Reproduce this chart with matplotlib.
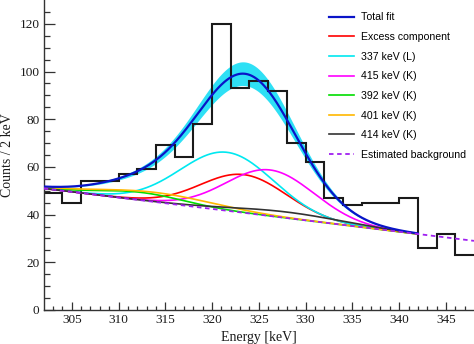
import numpy as np
import matplotlib
matplotlib.use("Agg")
import matplotlib.pyplot as plt

# Histogram: 2 keV bins
bin_edges = np.arange(302, 349, 2)
counts = [49, 45, 54, 54, 57, 59, 69, 64, 78, 120, 93, 96,
          92, 70, 62, 47, 44, 45, 45, 47, 26, 32, 23]

# Linear background (value at 302 keV and at 348 keV)
bg_energy = [302.0, 348.0]
bg_counts = [51.0, 29.0]

# Fit range
fit_lo, fit_hi = 302.0, 342.0

# Fit components: label, colour, centroid [keV], amplitude [counts], width [keV]
comp_labels = ["Excess component", "337 keV (L)", "415 keV (K)",
               "392 keV (K)", "401 keV (K)", "414 keV (K)"]
comp_colors = ["#ff0000", "#00e8f0", "#ff00ff", "#00dd00", "#ffb800", "#333333"]
comp_centroid = [323.4, 321.6, 326.2, 312.5, 314.0, 328.0]
comp_amplitude = [16.0, 24.5, 19.3, 3.3, 4.0, 2.5]
comp_width = [4.6, 5.0, 4.7, 4.5, 6.0, 6.0]

# Relative uncertainty of the fitted signal (band around total fit)
band_frac = 0.085


def background(e):
    slope = (bg_counts[1] - bg_counts[0]) / (bg_energy[1] - bg_energy[0])
    return bg_counts[0] + slope * (e - bg_energy[0])


def gauss(e, m, a, s):
    return a * np.exp(-0.5 * ((e - m) / s) ** 2)


plt.rcParams["font.family"] = ["Liberation Serif", "DejaVu Serif"]

fig = plt.figure(figsize=(4.74, 3.44), dpi=100)
W, H = 474.0, 344.0
ax = fig.add_axes([43.7 / W, 34.0 / H, 1 - 43.7 / W, 1 - 34.0 / H])

e = np.linspace(fit_lo, fit_hi, 600)
bg = background(e)
parts = [gauss(e, m, a, s) for m, a, s in zip(comp_centroid, comp_amplitude, comp_width)]
signal = np.sum(parts, axis=0)
total = bg + signal

ax.fill_between(e, total - band_frac * signal, total + band_frac * signal,
                color="#2ee0f5", lw=0, zorder=1)

ax.stairs(counts, bin_edges, baseline=None, color="#1a1a1a", lw=1.5, zorder=2)

handles = []
(h_total,) = ax.plot(e, total, color="#0a14c8", lw=1.6, zorder=5, label="Total fit")
handles.append(h_total)
for lab, col, p in zip(comp_labels, comp_colors, parts):
    (h,) = ax.plot(e, bg + p, color=col, lw=1.2, zorder=4, label=lab)
    handles.append(h)

eb = np.linspace(bg_energy[0], bg_energy[1], 2)
(h_bg,) = ax.plot(eb, background(eb), color="#a020f0", lw=1.3, ls=(0, (2.5, 2.0)),
                  zorder=6, label="Estimated background")
handles.append(h_bg)

ax.set_xlim(302, 348)
ax.set_ylim(0, 130)
ax.set_xticks(np.arange(305, 348, 5))
ax.set_xticks(np.arange(303, 348, 1), minor=True)
ax.set_yticks(np.arange(0, 121, 20))
ax.set_yticks(np.arange(0, 130, 5), minor=True)

for side in ("top", "right"):
    ax.spines[side].set_visible(False)
for side in ("left", "bottom"):
    ax.spines[side].set_color("#333333")
    ax.spines[side].set_linewidth(1.0)

ax.tick_params(axis="both", which="both", direction="in", colors="#333333",
               labelcolor="#1a1a1a", labelsize=9.5, width=0.9)
ax.tick_params(axis="y", which="major", length=8, pad=3)
ax.tick_params(axis="y", which="minor", length=4)
ax.tick_params(axis="x", which="major", length=6, pad=3)
ax.tick_params(axis="x", which="minor", length=3)

ax.set_xlabel("Energy [keV]", fontsize=10, color="#1a1a1a")
ax.set_ylabel("Counts / 2 keV", fontsize=10, color="#1a1a1a")
ax.xaxis.set_label_coords(0.5, -0.068)
ax.yaxis.set_label_coords(-0.069, 0.5)

leg = ax.legend(handles=handles, loc="upper left",
                bbox_to_anchor=(329.3 / W, 1 - 12.5 / H), bbox_transform=fig.transFigure,
                frameon=False, borderpad=0, borderaxespad=0,
                handlelength=2.35, handletextpad=0.65, labelspacing=0.91,
                prop={"family": ["Liberation Sans", "DejaVu Sans"], "size": 7.6})

fig.savefig("out.png", dpi=100)
